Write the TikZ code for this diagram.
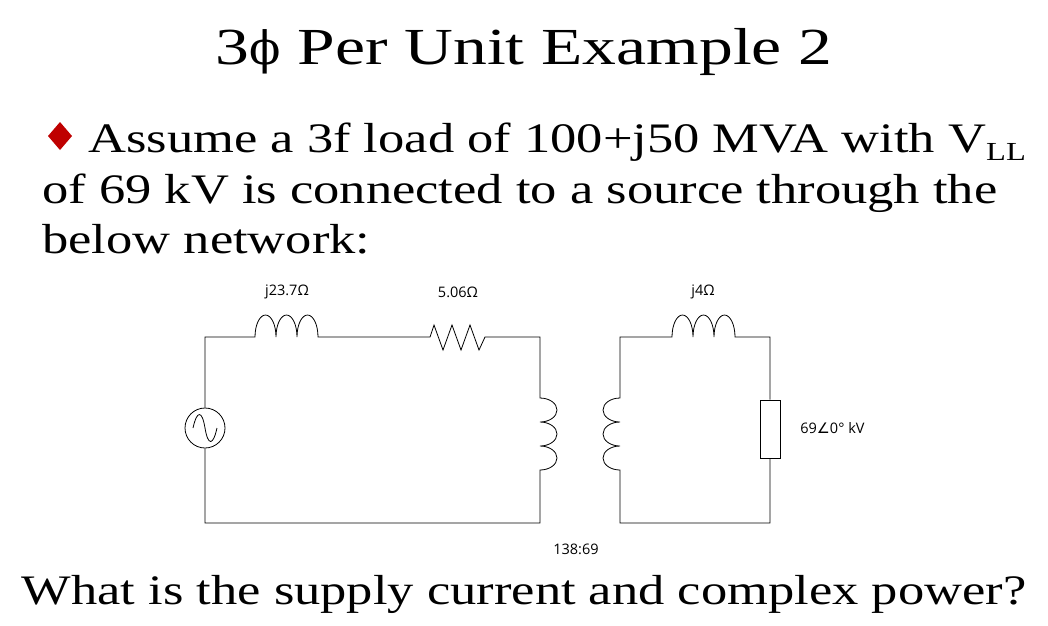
\documentclass[tikz,border=0pt]{standalone}
\usepackage{fontspec}
\setmainfont{Liberation Serif}[FakeStretch=1.25]
\newfontfamily\titlefont{Liberation Serif}[FakeStretch=1.3]
\newfontfamily\phifont{DejaVu Serif}
\newfontfamily\circfont{Open Sans}
\newfontfamily\symfont{DejaVu Sans}
\begin{document}
\begin{tikzpicture}[x=1pt,y=-1pt,line width=0.8pt,
  big/.style={font=\fontsize{42}{46}\selectfont,inner sep=0pt,anchor=base west},
  lbl/.style={font=\circfont\fontsize{14.5}{16}\selectfont,inner sep=0pt}]
\useasboundingbox (0,0) rectangle (1048,625);
\node[font=\titlefont\fontsize{52}{56}\selectfont,inner sep=0pt,anchor=base] (title) at (524,64) {3{\phifont\fontsize{46}{50}\selectfont ϕ} Per Unit Example 2};
\fill[red!75!black] (60,122) -- (72,136) -- (60,150) -- (48,136) -- cycle;
\node[big] (l1) at (88,152) {Assume a 3f load of 100+j50 MVA with V{\fontsize{26}{28}\selectfont\raisebox{-8pt}{LL}}};
\node[big] (l2) at (42,203) {of 69 kV is connected to a source through the};
\node[big] (l3) at (42,253) {below network:};
\node[big,anchor=base] (q) at (524,604) {What is the supply current and complex power?};
% primary loop
\node[draw,circle,minimum size=40pt,inner sep=0pt] (src) at (205,428) {};
\draw (193,428) .. controls (197,410) and (202,410) .. (205,428) .. controls (208,446) and (213,446) .. (217,428);
\draw (src.north) -- (205,337) -- (255,337)
  arc[start angle=180,end angle=360,x radius=10.5,y radius=22]
  arc[start angle=180,end angle=360,x radius=10.5,y radius=22]
  arc[start angle=180,end angle=360,x radius=10.5,y radius=22]
  -- (430,337) -- (434,325) -- (443,350) -- (452,325) -- (461,350) -- (470,325) -- (479,350) -- (485,337) -- (540,337) -- (540,398)
  arc[start angle=270,end angle=450,x radius=17,y radius=12]
  arc[start angle=270,end angle=450,x radius=17,y radius=12]
  arc[start angle=270,end angle=450,x radius=17,y radius=12]
  -- (540,523) -- (205,523) -- (src.south);
% secondary loop
\node[draw,rectangle,minimum width=20pt,minimum height=58pt,inner sep=0pt] (load) at (770,429) {};
\draw (load.north) -- (770,337) -- (735,337)
  arc[start angle=0,end angle=-180,x radius=10.5,y radius=22]
  arc[start angle=0,end angle=-180,x radius=10.5,y radius=22]
  arc[start angle=0,end angle=-180,x radius=10.5,y radius=22]
  -- (620,337) -- (620,398)
  arc[start angle=270,end angle=90,x radius=17,y radius=12]
  arc[start angle=270,end angle=90,x radius=17,y radius=12]
  arc[start angle=270,end angle=90,x radius=17,y radius=12]
  -- (620,523) -- (770,523) -- (load.south);
\node[lbl] (a) at (287,292) {j23.7Ω};
\node[lbl] (b) at (458,292) {5.06Ω};
\node[lbl] (c) at (703,292) {j4Ω};
\node[lbl,anchor=west] (d) at (800,428) {69{\symfont\fontsize{14.5}{16}\selectfont ∠}0° kV};
\node[lbl] (e) at (576,549) {138:69};
\end{tikzpicture}
\end{document}
